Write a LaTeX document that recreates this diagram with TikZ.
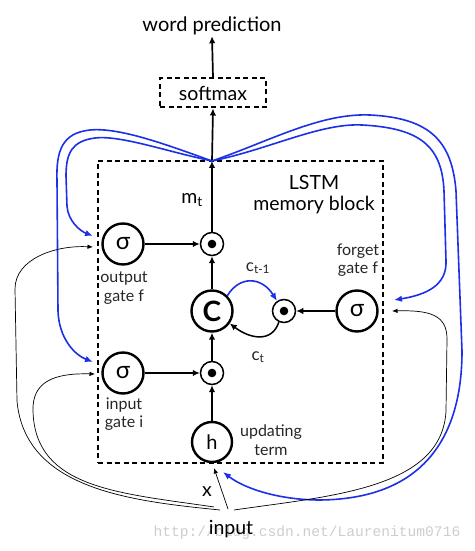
\documentclass[tikz,border=0pt]{standalone}
\usepackage{fontspec}
\setmainfont{Lato}
\newfontfamily\wmfont{Liberation Mono}
\usetikzlibrary{arrows.meta}
\definecolor{lblue}{RGB}{28,48,232}
\definecolor{wmgray}{RGB}{205,205,205}
\tikzset{
  bigtxt/.style={font=\fontsize{19.5}{21}\selectfont, inner sep=1pt},
  smalltxt/.style={font=\fontsize{16}{18.5}\selectfont, align=center, inner sep=1pt, text=black!85},
  dbox/.style={draw, line width=2pt, dash pattern=on 5pt off 3.5pt},
  gatec/.style={circle, draw, line width=2.4pt, minimum size=41pt, inner sep=0pt, font=\fontsize{24}{26}\selectfont},
  dotc/.style={circle, draw, line width=1.5pt, minimum size=23pt, inner sep=0pt,
    path picture={\fill (path picture bounding box.center) circle (4.3pt);}},
  thk/.style={line width=1.7pt, -{Latex[length=7pt,width=6.5pt]}},
  thn/.style={line width=0.7pt, -{Latex[length=5.5pt,width=4.5pt]}},
  blu/.style={draw=lblue, line width=1.6pt, -{Latex[length=8pt,width=6.5pt]}, color=lblue},
}
\begin{document}
\begin{tikzpicture}[x=1pt,y=1pt]
\useasboundingbox (0,0) rectangle (474,551);
% watermark
\node[font=\wmfont\fontsize{14.6}{16}\selectfont, text=wmgray, inner sep=0pt] (wm) at (307,18) {http://blog.csdn.net/Laurenitum0716};
% texts
\node[bigtxt, font=\fontsize{20}{22}\selectfont] (wp) at (212,525) {word prediction};
\node[bigtxt, dbox, minimum width=106pt, minimum height=29pt] (sm) at (213,458) {softmax};
\node[dbox, minimum width=285pt, minimum height=302pt] (mb) at (240.5,239) {};
\coordinate (top) at (212,390);
\node[bigtxt, align=center] (lstm) at (314,356) {LSTM\\memory block};
\node[bigtxt] (mt) at (192,351) {m\textsubscript{t}};
% gates
\node[gatec] (og) at (123,307) {σ};
\node[dotc] (od) at (212,307) {};
\node[smalltxt] (ogl) at (124,263) {output\\gate f};
\node[gatec, font=\fontsize{28}{30}\selectfont\bfseries] (C) at (212,240) {C};
\node[dotc] (rd) at (284,240) {};
\node[gatec] (fg) at (357,240) {σ};
\node[smalltxt] (fgl) at (358,291) {forget\\gate f};
\node[smalltxt, font=\fontsize{17}{19}\selectfont] (ct1) at (258,283) {c\textsubscript{t-1}};
\node[smalltxt, font=\fontsize{17}{19}\selectfont] (ct) at (258,194) {c\textsubscript{t}};
\node[gatec] (ig) at (123,178) {σ};
\node[dotc] (id) at (212,178) {};
\node[smalltxt] (igl) at (124,137) {input\\gate i};
\node[gatec, minimum size=40pt, font=\fontsize{20}{22}\selectfont] (h) at (212,109) {h};
\node[smalltxt] (hl) at (271,111) {updating\\term};
\node[bigtxt] (x) at (207,59) {x};
\node[bigtxt] (inp) at (231,22) {input};
% source points of input curves
\coordinate (sL1) at (220,41);
\coordinate (sL2) at (214,44);
\coordinate (sX) at (228,42);
\coordinate (sR) at (234,41);
% thick internal arrows
\draw[thk] (sm.north) -- (wp.south);
\draw[thk] (top) -- (sm.south);
\draw[thk] (od) -- (top);
\draw[thk] (og) -- (od);
\draw[thk] (C) -- (od);
\draw[thk] (ig) -- (id);
\draw[thk] (id) -- (C);
\draw[thk] (h) -- (id);
\draw[thk] (fg) -- (rd);
\draw[thk, line width=1.5pt] (rd.245) .. controls (272,208) and (250,212) .. (C.-35);
\draw[blu] (C.45) .. controls (240,276) and (262,274) .. (rd.125);
% blue recurrent curves
\draw[blu] (top) .. controls (170,405) and (120,424) .. (90,421)
  .. controls (62,418) and (56,400) .. (57,370) -- (58,240)
  .. controls (59,212) and (75,196) .. (93,189);
\draw[blu] (top) .. controls (165,400) and (120,416) .. (95,413)
  .. controls (72,410) and (66,398) .. (66,375) -- (67,345)
  .. controls (68,330) and (80,320) .. (93,315);
\draw[blu] (top) .. controls (270,410) and (320,438) .. (370,436)
  .. controls (430,433) and (452,410) .. (456,360) -- (462,200)
  .. controls (462,110) and (420,52) .. (320,51)
  .. controls (280,51) and (245,62) .. (223,79);
\draw[blu] (top) .. controls (270,402) and (320,428) .. (362,426)
  .. controls (420,423) and (442,405) .. (444,360) -- (446,290)
  .. controls (447,265) and (425,256) .. (394,251);
% thin input curves
\draw[thn] (sL1) .. controls (130,50) and (25,62) .. (17,150) -- (15,262)
  .. controls (15,292) and (55,306) .. (93,304);
\draw[thn] (sL2) .. controls (120,58) and (35,62) .. (33,140)
  .. controls (32,170) and (55,178) .. (95,177);
\draw[thn] (sR) .. controls (330,55) and (442,62) .. (446,140) -- (447,212)
  .. controls (447,236) and (430,241) .. (392,240);
\draw[thn] (sX) -- (214,83);
\end{tikzpicture}
\end{document}
